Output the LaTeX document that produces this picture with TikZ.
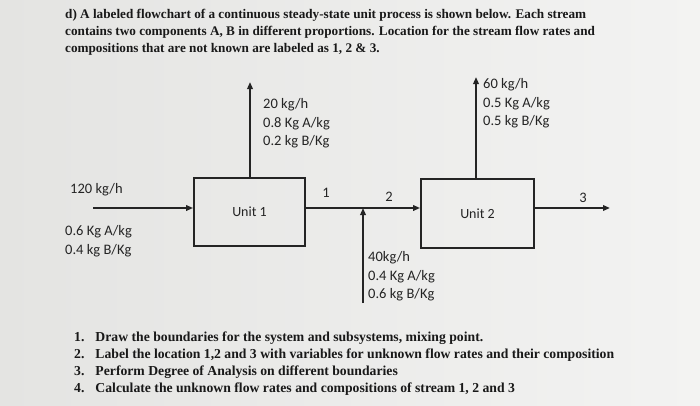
\documentclass[tikz,border=0pt]{standalone}
\usepackage{fontspec}
\setmainfont{Liberation Serif}
\newfontfamily\calfont{Carlito}
\usetikzlibrary{arrows.meta}
\definecolor{ink}{RGB}{36,36,36}
\definecolor{paperl}{RGB}{228,228,226}
\definecolor{paperr}{RGB}{243,243,242}
\tikzset{every picture/.append style={x=1pt, y=-1pt}}
\tikzset{
    unitbox/.style={draw=ink, line width=1.8pt, minimum width=111pt,
    	minimum height=68pt, text=ink, font=\calfont\fontsize{14}{17}\selectfont},
    stream/.style={draw=ink, line width=1.8pt, -{Triangle[length=7pt,width=5.5pt]}},
    lbl/.style={anchor=north west, inner sep=0pt, align=left, text=ink,
    	font=\calfont\fontsize{14.5}{18.8}\selectfont},
    num/.style={inner sep=0pt, text=ink, font=\calfont\fontsize{14.5}{17}\selectfont},
    prose/.style={anchor=north west, inner sep=0pt, align=left, text=black!90,
    	font=\bfseries\fontsize{13.2}{17}\selectfont}
}

\begin{document}
\begin{tikzpicture}
	\shade[left color=paperl, right color=paperr] (0,0) rectangle (700,405);
	\useasboundingbox (0,0) rectangle (700,405);
	% question text
	\node [prose] (intro) at (65,9) {d) A labeled flowchart of a continuous steady-state unit process is shown below. Each stream\\
		contains two components A, B in different proportions. Location for the stream flow rates and\\
		compositions that are not known are labeled as 1, 2 \& 3.};
	% units
	\node [unitbox] (u1) at (249.5,212) {Unit 1};
	\node [unitbox, minimum width=113pt, minimum height=69pt] (u2) at (477.5,213.5) {Unit 2};
	\coordinate (feed) at (93,208);
	\coordinate (mix) at (363,208);
	\coordinate (fresh) at (363,303);
	\coordinate (top1) at (250,82);
	\coordinate (top2) at (476,77);
	\coordinate (out) at (610,208);
	\draw [stream] (feed) -- (feed -| u1.west);
	\draw [stream] (u1.north -| top1) -- (top1);
	\draw [stream, -] (u1.east |- mix) -- (mix);
	\draw [stream] (mix) -- (mix -| u2.west);
	\draw [stream] (fresh) -- (mix);
	\draw [stream] (u2.north -| top2) -- (top2);
	\draw [stream] (u2.east |- out) -- (out);
	% stream data
	\node [lbl] (feedrate) at (70,183) {120 kg/h};
	\node [lbl] (feedcomp) at (65,225) {0.6 Kg A/kg\\0.4 kg B/Kg};
	\node [lbl] (top1data) at (263,98) {20 kg/h\\0.8 Kg A/kg\\0.2 kg B/Kg};
	\node [lbl] (top2data) at (483,78) {60 kg/h\\0.5 Kg A/kg\\0.5 kg B/Kg};
	\node [lbl] (freshdata) at (368,251) {40kg/h\\0.4 Kg A/kg\\0.6 kg B/Kg};
	\node [num] (s1) at (326,193) {1};
	\node [num] (s2) at (389,197) {2};
	\node [num] (s3) at (583,198) {3};
	% tasks
	\node [prose, font=\bfseries\fontsize{13.7}{17}\selectfont] (tasks) at (74,329) {\begin{tabular}{@{}r@{\hspace{11pt}}l@{}}
		1. & Draw the boundaries for the system and subsystems, mixing point.\\
		2. & Label the location 1,2 and 3 with variables for unknown flow rates and their composition\\
		3. & Perform Degree of Analysis on different boundaries\\
		4. & Calculate the unknown flow rates and compositions of stream 1, 2 and 3
	\end{tabular}};
\end{tikzpicture}
\end{document}
